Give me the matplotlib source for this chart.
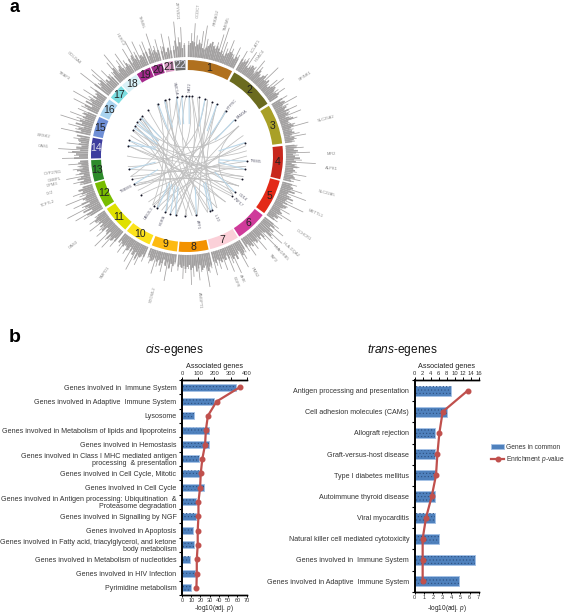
import numpy as np
import matplotlib
matplotlib.use("Agg")
import matplotlib.pyplot as plt
from matplotlib.patches import Wedge, PathPatch
from matplotlib.path import Path

plt.rcParams["font.family"] = ["Liberation Sans", "DejaVu Sans"]
plt.rcParams["mathtext.fontset"] = "custom"
plt.rcParams["mathtext.rm"] = "Liberation Sans"
plt.rcParams["mathtext.it"] = "Liberation Sans:italic"
plt.rcParams["hatch.linewidth"] = 0.35

# panel a: chromosome ring, angles clockwise from the top
chrom_names = [str(i) for i in range(1, 23)]
chrom_start = [0.5, 29.5, 58.5, 84, 105, 128, 148, 167, 186, 203, 220, 238, 254.5, 268.5, 282, 295, 307.5, 317.5, 328.5, 338, 346, 352.5]
chrom_end = [28, 57, 82.5, 104, 126.5, 147, 166, 185, 201.5, 218.7, 236.6, 253.5, 267.5, 281, 294, 306, 316.7, 328, 337.3, 345, 351.6, 359]
chrom_colors = ["#b0701e", "#6b6b1f", "#a9a027", "#c8281e", "#e32a18", "#cf3b9a", "#fbd0d8", "#f39200", "#fdba12", "#fce21a", "#dfe000",
                "#79bd00", "#2d8a2a", "#3d3d9e", "#6f8fd6", "#a9d3ef", "#7cdde0", "#d9f1f7", "#a52a8c", "#a0308c", "#d89ac4", "#6e6e6e"]

# height of the grey peaks outside the ring, one list per chromosome
peaks = [
    [16, 24, 34, 22, 18, 27, 33, 20, 14, 12, 15, 19, 28, 36, 22, 16, 26, 18, 13, 22, 15],
    [22, 14, 17, 26, 12, 10, 14, 24, 18, 11, 9, 16, 28, 13, 10, 19, 25, 12, 14, 20, 10],
    [18, 12, 26, 15, 10, 22, 13, 24, 12, 18, 9, 14, 27, 11, 8, 16, 22, 12, 10],
    [12, 18, 10, 24, 13, 9, 16, 30, 11, 14, 8, 12, 22, 10, 17, 11],
    [15, 11, 22, 14, 28, 13, 10, 17, 30, 14, 12, 19, 10, 24, 15, 11, 13],
    [18, 26, 14, 30, 20, 34, 16, 11, 24, 13, 18, 10, 22, 15],
    [14, 20, 28, 12, 16, 30, 18, 26, 12, 22, 10, 19, 15, 24],
    [16, 20, 34, 14, 18, 26, 12, 22, 30, 14, 18, 24, 12, 16],
    [10, 18, 14, 28, 12, 20, 9, 16, 24, 12, 15, 10],
    [16, 12, 22, 18, 30, 14, 24, 12, 18, 10, 20, 14, 11],
    [20, 14, 26, 18, 30, 12, 22, 16, 10, 24, 14, 20, 12],
    [22, 30, 14, 36, 18, 26, 12, 32, 16, 22, 14, 10],
    [12, 18, 10, 24, 14, 9, 16, 11, 20, 8],
    [26, 14, 20, 30, 12, 22, 10, 16, 12],
    [30, 16, 24, 12, 34, 18, 26, 14, 20],
    [18, 28, 12, 32, 16, 24, 12, 20],
    [36, 16, 26, 30, 12, 22, 14],
    [14, 24, 32, 12, 20, 26, 16, 10],
    [26, 14, 32, 18, 28, 12, 22],
    [24, 12, 30, 16, 22],
    [14, 26, 10, 22],
    [12, 36, 20, 30, 14],
]
# the shorter peaks between them, which make the solid base
low_peaks = [
    [12, 14, 16, 15, 11, 13, 15, 14, 10, 9, 11, 13, 16, 18, 14, 12, 15, 13, 10, 12, 9, 8, 11, 12, 14, 13, 10, 9, 12, 11],
    [13, 10, 12, 14, 9, 8, 10, 13, 12, 9, 7, 11, 14, 10, 8, 12, 13, 9, 10, 12, 8, 7, 9, 11, 13, 10, 8, 10, 12, 9],
    [12, 9, 13, 10, 8, 12, 9, 13, 9, 11, 7, 10, 14, 8, 7, 10, 12, 9, 7, 9, 11, 8, 6, 10, 9, 7],
    [9, 11, 8, 12, 10, 7, 9, 14, 8, 10, 6, 9, 12, 8, 10, 8, 6, 9, 11, 7, 8],
    [10, 9, 12, 10, 15, 9, 8, 11, 16, 10, 9, 12, 8, 13, 10, 8, 9, 12, 10, 8, 11, 7, 9],
    [11, 14, 10, 16, 13, 17, 10, 8, 13, 9, 12, 8, 12, 10, 9, 13, 11, 8, 10],
    [10, 13, 15, 9, 11, 16, 12, 14, 9, 12, 8, 12, 10, 13, 11, 9, 12, 10],
    [13, 14, 18, 12, 14, 16, 11, 14, 17, 11, 13, 15, 10, 12, 14, 11, 13, 10, 12],
    [8, 12, 10, 15, 9, 13, 7, 11, 14, 9, 11, 8, 10, 12, 9, 7],
    [11, 9, 13, 12, 16, 10, 14, 9, 12, 8, 13, 10, 9, 12, 10, 8, 11],
    [13, 10, 15, 12, 16, 9, 13, 11, 8, 14, 10, 13, 9, 12, 10, 14, 11, 8],
    [14, 17, 10, 19, 12, 15, 9, 17, 11, 14, 10, 8, 13, 11, 15, 10],
    [8, 11, 7, 13, 9, 6, 10, 8, 12, 6, 9, 7, 10, 8],
    [14, 9, 12, 16, 8, 12, 7, 10, 8, 11, 9, 13],
    [15, 10, 13, 8, 17, 11, 14, 9, 12, 10, 13, 9],
    [11, 15, 8, 16, 10, 13, 8, 12, 9, 11, 14],
    [18, 11, 14, 16, 9, 12, 9, 13, 10],
    [9, 13, 16, 8, 11, 14, 10, 7, 9, 12, 8],
    [14, 9, 16, 11, 14, 8, 12, 10, 13],
    [13, 8, 15, 10, 12, 9, 11],
    [9, 13, 7, 11, 8],
    [8, 17, 11, 15, 9, 12],
]

# gene labels outside the peaks: angle, radius
outer_genes = ["ZFYVE21", "CCDC7", "PRKAG2", "TMEM5", "LCLAT1", "HDAC4", "SPINK1", "SLC25A2", "MFI2", "ALPK1", "SLC22A5", "METTL1", "CCHCR1",
               "HLA-DQA2", "HLA-DRB5", "TAP2", "PMS2", "AHR", "EGFR", "ANGPT1", "STOML2", "SMPD1", "OAS3", "TCF7L2", "LYZ", "DPM3", "OSBPL", "CYP27B1",
               "OAS1", "BRSK2", "TRAF3", "GOLGA8", "HERC2", "THNSL"]
outer_angle = [356, 4.5, 12, 17, 32, 36, 56, 75, 89, 95, 105, 114, 124, 132, 136, 140, 150, 156, 159, 175, 194, 215, 232, 251, 255, 258, 260, 263, 274, 278, 303, 311, 330, 341]
outer_radius = [146, 146, 142, 138, 130, 124, 143, 144, 144, 145, 144, 141, 141, 140, 135, 134, 134, 134, 135, 145, 143, 142, 144, 147, 142, 138, 135, 135, 144, 145, 147, 150, 135, 142]

# inner nodes
node_angle = [320, 296, 300, 304, 308, 312, 331, 338, 343, 350, 355, 359, 2, 4.5, 12, 17.5, 25, 30, 41, 52.6, 77, 95, 103, 113, 127, 132,
              155, 157, 171, 182, 191, 196, 201, 209.5, 213.6, 230, 242, 247, 257, 280, 285]
inner_genes = ["SMC1A", "NAT2", "PTPRC", "FAM3A", "TRIM5", "CD14", "ZNF17", "IL10", "AFF1", "RORA", "UBE2L3", "TMEM4"]
inner_angle = [350, 2, 41, 52.6, 95, 127, 132, 155, 171, 201, 213.6, 242]

# link ends, in degrees
link_from = [320, 296, 300, 304, 308, 312, 331, 338, 343, 350, 355, 359, 2, 4.5, 12, 17.5, 25, 30, 41, 52.6, 77, 95, 103, 113, 127, 132, 155, 157,
             171, 182, 191, 196, 201, 209.5, 213.6, 230, 242, 247, 257, 280, 285, 300, 340, 20, 60, 350, 5, 120, 200, 310]
link_to = [130, 85, 150, 60, 190, 110, 215, 140, 170, 250, 200, 160, 235, 190, 205, 260, 215, 160, 240, 270, 220, 250, 290, 300, 330, 280, 10, 340,
           310, 20, 30, 70, 60, 100, 40, 90, 120, 80, 110, 100, 140, 180, 210, 170, 130, 120, 150, 240, 295, 175]
blue_angle = [298, 302, 306, 310, 331, 338, 350, 355, 2, 17.5, 30, 41, 52.6, 77, 95, 103, 127, 155, 157, 171, 191, 196, 201, 209.5, 242, 257, 280, 285]
blue_turn = [-6, -4, -8, -5, -7, -5, -2, -1, 2, 5, 9, 7, 8, 4, 2, -2, -7, -10, -8, -6, 5, 6, 8, 4, 3, 2, 6, -4]

# panel b data
cis_terms = ["Genes involved in  Immune System", "Genes involved in Adaptive  Immune System", "Lysosome",
             "Genes involved in Metabolism of lipids and lipoproteins", "Genes involved in Hemostasis",
             "Genes involved in Class I MHC mediated antigen\nprocessing  & presentation", "Genes involved in Cell Cycle, Mitotic",
             "Genes involved in Cell Cycle", "Genes involved in Antigen processing: Ubiquitination  &\nProteasome degradation",
             "Genes involved in Signalling by NGF", "Genes involved in Apoptosis",
             "Genes involved in Fatty acid, triacylglycerol, and ketone\nbody metabolism", "Genes involved in Metabolism of nucleotides",
             "Genes involved in HIV Infection", "Pyrimidine metabolism"]
cis_genes = [334, 197, 75, 164, 164, 104, 110, 137, 89, 89, 68, 75, 48, 81, 54]
cis_p = [62.7, 37.4, 28, 25.8, 25, 22, 20.3, 19.6, 17.8, 17.8, 17, 17, 16, 16, 15.6]

trans_terms = ["Antigen processing and presentation", "Cell adhesion molecules (CAMs)", "Allograft rejection", "Graft-versus-host disease",
               "Type I diabetes mellitus", "Autoimmune thyroid disease", "Viral myocarditis", "Natural killer cell mediated cytotoxicity",
               "Genes involved in  Immune System", "Genes involved in Adaptive  Immune System"]
trans_genes = [9, 8, 5, 5, 5, 5, 5, 6, 15, 11]
trans_p = [5.8, 3.06, 2.7, 2.48, 2.33, 1.86, 1.24, 0.87, 0.87, 0.87]

W, H = 566, 613
CX, CY = 187, 156
GREY = "#a3a1a1"


def xy(angle, r):
    t = np.radians(angle)
    return CX + r * np.sin(t), CY - r * np.cos(t)


def radial_bars(angles, heights, lw):
    for a, h in zip(angles, heights):
        x0, y0 = xy(a, 99)
        x1, y1 = xy(a, 99 + h)
        ax.plot([x0, x1], [y0, y1], color=GREY, lw=lw, solid_capstyle="butt")


fig = plt.figure(figsize=(W / 100, H / 100), dpi=100)
ax = fig.add_axes([0, 0, 1, 1])
ax.set_xlim(0, W)
ax.set_ylim(H, 0)
ax.axis("off")

ax.text(9, 12, "a", fontsize=13, fontweight="bold", va="baseline")
ax.text(9, 342, "b", fontsize=14, fontweight="bold", va="baseline")

# ring
for name, a0, a1, col, hts, low in zip(chrom_names, chrom_start, chrom_end, chrom_colors, peaks, low_peaks):
    # y axis is flipped so the wedge angles are measured clockwise from +x
    ax.add_patch(Wedge((CX, CY), 96, a0 - 90, a1 - 90, width=10, facecolor=col, edgecolor="none"))
    mx, my = xy((a0 + a1) / 2, 91)
    tc = "#d8d8e8" if name in ("14", "22") else "#222222"
    ax.text(mx, my, name, fontsize=7.5, color=tc, ha="center", va="center")
    radial_bars(np.linspace(a0 + 0.4, a1 - 0.4, len(low)), low, 1.2)
    radial_bars(np.linspace(a0 + 0.4, a1 - 0.4, len(hts)), hts, 0.55)

for gene, a, r in zip(outer_genes, outer_angle, outer_radius):
    x, y = xy(a, r)
    rot = 90 - a if a < 180 else 270 - a
    ax.text(x, y, gene, fontsize=3.0, color="#8a8a8a", ha="center", va="center", rotation=rot)

# links
for a, d in zip(blue_angle, blue_turn):
    x0, y0 = xy(a, 60)
    x1, y1 = xy(a + d, 32)
    ax.plot([x0, x1], [y0, y1], color="#bcd8ea", lw=0.8, solid_capstyle="butt")
for a, b in zip(link_from, link_to):
    p0 = xy(a, 60)
    p2 = xy(b, 60)
    c = xy((a + b) / 2, 15)
    path = Path([p0, c, p2], [Path.MOVETO, Path.CURVE3, Path.CURVE3])
    ax.add_patch(PathPatch(path, facecolor="none", edgecolor="#bfbfbf", lw=0.55))

node_xy = [xy(a, 60) for a in node_angle]
ax.scatter([p[0] for p in node_xy], [p[1] for p in node_xy], s=2.0, color="#111122", linewidths=0, zorder=4)
for gene, a in zip(inner_genes, inner_angle):
    x, y = xy(a, 69)
    rot = 90 - a if a < 180 else 270 - a
    ax.text(x, y, gene, fontsize=2.8, color="#666677", ha="center", va="center", rotation=rot)


def pathway_panel(box, terms, genes, pvals, gene_max, gene_ticks, p_max, p_ticks):
    left, top, right, bottom = box
    a = fig.add_axes([left / W, 1 - bottom / H, (right - left) / W, (bottom - top) / H])
    tw = a.twiny()
    pos = np.arange(len(terms))
    tw.barh(pos, genes, height=0.48, color="#4f81bd", edgecolor="#a7c3e6", linewidth=0.7, label="Genes in common")
    tw.barh(pos, genes, height=0.4, color="none", edgecolor="#2b4a78", linewidth=0, hatch=".....")
    a.plot(pvals, pos, color="#c0504d", lw=1.6, marker="o", ms=3.3, label="Enrichment $p$-value", clip_on=False)
    a.set_zorder(tw.get_zorder() + 1)
    a.patch.set_visible(False)
    a.set_xlim(0, p_max)
    tw.set_xlim(0, gene_max)
    a.set_ylim(len(terms) - 0.5, -0.5)
    a.set_xticks(p_ticks)
    tw.set_xticks(gene_ticks)
    a.set_yticks(pos)
    a.set_yticklabels(terms, fontsize=5.15, color="#333333", linespacing=1.0)
    a.set_yticks(np.arange(len(terms) + 1) - 0.5, minor=True)
    a.tick_params(axis="y", which="major", length=0, pad=4)
    a.tick_params(axis="y", which="minor", length=2, width=0.8)
    a.tick_params(axis="x", labelsize=4.0, length=1.5, width=0.7, pad=0.6, labelcolor="#333333")
    tw.tick_params(axis="x", labelsize=4.2, length=2, width=0.7, pad=1, labelcolor="#333333")
    for s in [a, tw]:
        s.spines["right"].set_visible(False)
        s.spines["left"].set_linewidth(1.2)
        s.spines["top"].set_linewidth(1.0)
        s.spines["bottom"].set_linewidth(1.0)
    tw.set_xlabel("Associated genes", fontsize=5.2, labelpad=2, color="#222222")
    a.set_xlabel("-log10(adj. $p$)", fontsize=4.7, color="#222222")
    a.xaxis.set_label_coords(0.5, (bottom - 603.3) / (bottom - top))
    return a, tw


cis_ax, cis_tw = pathway_panel((182, 380, 246.7, 595), cis_terms, cis_genes, cis_p, 400, range(0, 401, 100), 70, range(0, 71, 10))
trans_ax, trans_tw = pathway_panel((414.7, 380, 478.7, 591.7), trans_terms, trans_genes, trans_p, 16, range(0, 17, 2), 7, range(0, 8))

ax.text(174, 350, "$\\it{cis}$-egenes", fontsize=8.6, ha="center", va="center", color="#111111")
ax.text(402, 350, "$\\it{trans}$-egenes", fontsize=8.6, ha="center", va="center", color="#111111")

h1, l1 = trans_tw.get_legend_handles_labels()
h2, l2 = trans_ax.get_legend_handles_labels()
fig.legend(h1[:1] + h2, l1[:1] + l2, loc="upper left", bbox_to_anchor=(491 / W, 1 - 444 / H), frameon=False, fontsize=4.8,
           borderpad=0, borderaxespad=0, handlelength=2.0, handletextpad=0.3, labelspacing=0.45, labelcolor="#333333")

fig.savefig("out.png", dpi=100)
